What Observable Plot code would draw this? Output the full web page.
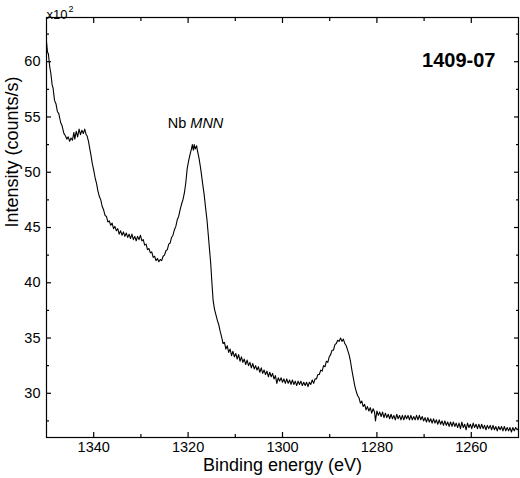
<!DOCTYPE html>
<html>
<head>
<meta charset="utf-8">
<script src="https://cdn.jsdelivr.net/npm/d3@7"></script>
<script src="https://cdn.jsdelivr.net/npm/@observablehq/plot@0.6"></script>
<style>
  html, body { margin: 0; padding: 0; background: #fff; }
</style>
</head>
<body>
<div id="chart"></div>
<script>
// [binding energy (eV), intensity (x10^2 counts/s)]
const shoulder = [[1350,61.8],[1349.8,60.9],[1349.6,60.7],[1349.3,59.5],[1349.1,59.0],[1348.8,57.9],[1348.6,57.6],
  [1348.3,56.5],[1348.0,56.2],[1347.7,55.5],[1347.4,55.3],[1347.0,54.5],[1346.7,54.2],[1346.3,53.5],[1346.0,53.3],
  [1345.7,53.0],[1345.4,53.2],[1345.1,52.8],[1344.8,53.1],[1344.5,52.9],[1344.2,53.6],[1344.0,53.0],[1343.7,53.7],
  [1343.4,53.2],[1343.1,53.9],[1342.8,53.4],[1342.5,53.8],[1342.2,53.5],[1341.9,53.9],[1341.6,53.4],[1341.4,53.3],
  [1341.1,52.8],[1340.9,52.3],[1340.6,51.6],[1340.3,50.8],[1340.0,50.2],[1339.7,49.5],[1339.4,49.0],[1339.1,48.3],
  [1338.8,47.8],[1338.5,47.5],[1338.2,46.9],[1337.9,46.6],[1337.6,46.1],[1337.3,46.0],[1337.0,45.5],[1336.7,45.6],
  [1336.4,45.2],[1336.1,45.4],[1335.8,44.9],[1335.5,45.1],[1335.2,44.7],[1334.9,44.9],[1334.6,44.4],[1334.3,44.7],
  [1334.0,44.3],[1333.7,44.6],[1333.4,44.2],[1333.1,44.5],[1332.8,44.1],[1332.5,44.4],[1332.2,44.0],[1331.9,44.4],
  [1331.6,43.9],[1331.3,44.2],[1331.0,43.8],[1330.7,44.2],[1330.4,43.9],[1330.1,44.3],[1329.8,43.8],[1329.5,43.9],
  [1329.2,43.4],[1328.9,43.5],[1328.6,43.0],[1328.3,43.1],[1328.0,42.7],[1327.7,42.8],[1327.4,42.3],[1327.1,42.4],
  [1326.8,42.0],[1326.5,42.2],[1326.2,41.9],[1325.9,42.1],[1325.6,42.0]];
const mnnPeak = [[1325.3,42.4],[1325.0,42.5],[1324.7,42.9],[1324.4,43.0],[1324.1,43.5],[1323.8,43.6],[1323.5,44.1],
  [1323.2,44.3],[1322.9,44.8],[1322.6,45.1],[1322.3,45.7],[1322.0,46.0],[1321.7,46.6],[1321.4,47.1],[1321.1,47.5],
  [1320.8,48.1],[1320.5,49.0],[1320.2,50.3],[1319.9,51.0],[1319.6,51.6],[1319.3,52.1],[1319.1,52.5],[1318.9,52.0],
  [1318.7,52.5],[1318.5,52.1],[1318.2,52.4],[1318.0,51.9],[1317.7,51.3],[1317.4,50.5],[1317.2,49.9],[1316.9,48.9],
  [1316.6,48.0],[1316.3,46.8],[1316.0,45.7],[1315.8,44.7],[1315.5,43.2],[1315.2,41.7],[1315.0,40.3],[1314.7,38.4],
  [1314.4,37.6],[1314.1,37.1],[1313.8,36.6],[1313.5,36.2],[1313.2,35.6],[1312.9,35.1],[1312.6,34.5]];
const valley = [[1312.3,34.6],[1312.0,34.0],[1311.7,34.3],[1311.4,33.7],[1311.1,34.0],[1310.8,33.4],[1310.5,33.8],
  [1310.2,33.3],[1309.9,33.6],[1309.6,33.1],[1309.3,33.5],[1309.0,32.9],[1308.7,33.3],[1308.4,32.8],[1308.1,33.1],
  [1307.8,32.6],[1307.5,33.0],[1307.2,32.5],[1306.9,32.8],[1306.6,32.3],[1306.3,32.7],[1306.0,32.2],[1305.7,32.5],
  [1305.4,32.1],[1305.1,32.4],[1304.8,31.9],[1304.5,32.3],[1304.2,31.8],[1303.9,32.1],[1303.6,31.7],[1303.3,32.0],
  [1303.0,31.5],[1302.7,31.9],[1302.4,31.5],[1302.1,31.8],[1301.8,31.3],[1301.5,31.6],[1301.2,30.9],[1300.9,31.4],
  [1300.6,31.1],[1300.3,31.4],[1300.0,31.0],[1299.7,31.3],[1299.4,30.9],[1299.1,31.3],[1298.8,30.9],[1298.5,31.2],
  [1298.2,30.8],[1297.9,31.2],[1297.6,30.8],[1297.3,31.1],[1297.0,30.7],[1296.7,31.1],[1296.4,30.8],[1296.1,31.1],
  [1295.8,30.7],[1295.5,31.0],[1295.2,30.7],[1294.9,31.0],[1294.6,30.6],[1294.3,31.0],[1294.0,30.8],[1293.7,31.2],
  [1293.4,30.9]];
const lowPeak = [[1293.1,31.3],[1292.8,31.3],[1292.5,31.7],[1292.2,31.7],[1291.9,32.1],[1291.6,32.0],[1291.3,32.5],
  [1291.0,32.4],[1290.7,32.9],[1290.4,32.8],[1290.1,33.3],[1289.8,33.5],[1289.5,33.9],[1289.2,33.9],[1288.9,34.4],
  [1288.6,34.5],[1288.3,34.8],[1288.0,34.7],[1287.7,35.0],[1287.4,34.7],[1287.1,34.9],[1286.8,34.5],[1286.5,34.3],
  [1286.2,33.9],[1285.9,33.5],[1285.6,32.9],[1285.3,32.1],[1285.0,31.4],[1284.7,30.7],[1284.4,30.2],[1284.1,29.8],
  [1283.8,29.6],[1283.5,29.1],[1283.2,29.3],[1282.9,28.8],[1282.6,29.0],[1282.3,28.5],[1282.0,28.8],[1281.7,28.4],
  [1281.4,28.7],[1281.1,28.2],[1280.8,28.6],[1280.5,28.3],[1280.3,27.5],[1280.0,28.4]];
const background = [[1279.7,28.0],[1279.4,28.3],[1279.1,27.9],[1278.8,28.3],[1278.5,27.8],[1278.2,28.2],[1277.9,27.8],
  [1277.6,28.1],[1277.3,27.7],[1277.0,28.1],[1276.7,27.7],[1276.4,28.0],[1276.1,27.6],[1275.8,28.1],[1275.5,27.7],
  [1275.2,28.0],[1274.9,27.6],[1274.6,28.0],[1274.3,27.6],[1274.0,28.0],[1273.7,27.7],[1273.4,28.0],[1273.1,27.6],
  [1272.8,28.0],[1272.5,27.6],[1272.2,27.9],[1271.9,27.6],[1271.6,28.0],[1271.3,27.6],[1271.0,28.0],[1270.7,27.6],
  [1270.4,27.9],[1270.1,27.5],[1269.8,27.8],[1269.5,27.4],[1269.2,27.8],[1268.9,27.4],[1268.6,27.7],[1268.3,27.3],
  [1268.0,27.7],[1267.7,27.3],[1267.4,27.6],[1267.1,27.2],[1266.8,27.6],[1266.5,27.2],[1266.2,27.5],[1265.9,27.1],
  [1265.6,27.5],[1265.3,27.1],[1265.0,27.4],[1264.7,27.0],[1264.4,27.4],[1264.1,27.0],[1263.8,27.4],[1263.5,27.0],
  [1263.2,27.3],[1262.9,26.9],[1262.6,27.3],[1262.3,26.8],[1262.0,27.4],[1261.7,26.9],[1261.4,27.2],[1261.1,26.7],
  [1260.8,27.3],[1260.5,26.9],[1260.2,27.2],[1259.9,26.8],[1259.6,27.3],[1259.3,26.9],[1259.0,27.2],[1258.7,26.8],
  [1258.4,27.2],[1258.1,26.8],[1257.8,27.2],[1257.5,26.8],[1257.2,27.1],[1256.9,26.7],[1256.6,27.1],[1256.3,26.8],
  [1256.0,27.1],[1255.7,26.7],[1255.4,27.1],[1255.1,26.7],[1254.8,27.0],[1254.5,26.6],[1254.2,27.0],[1253.9,26.7],
  [1253.6,27.0],[1253.3,26.6],[1253.0,27.0],[1252.7,26.6],[1252.4,26.9],[1252.1,26.6],[1251.8,26.9],[1251.5,26.5],
  [1251.2,26.9],[1250.9,26.6],[1250.6,26.9],[1250.3,26.7],[1250.0,26.8]];

const xMajor = [1340, 1320, 1300, 1280, 1260];
const xMinor = [1330, 1310, 1290, 1270];
const yMajor = [30, 35, 40, 45, 50, 55, 60];
const yMinor = [27.5, 32.5, 37.5, 42.5, 47.5, 52.5, 57.5, 62.5];
const xDomain = [1350, 1250];
const yDomain = [26, 64];

const spectrum = [...shoulder, ...mnnPeak, ...valley, ...lowPeak, ...background].map(([e, v]) => ({e, v}));

const W = 520, H = 478, mt = 17, mb = 41, ml = 46, mr = 2;
const maj = 5, mnr = 3;
const fmt = d3.format("d");
const tk = {stroke: "#000", strokeWidth: 1.2};

const chart = Plot.plot({
  width: W, height: H,
  marginTop: mt, marginBottom: mb, marginLeft: ml, marginRight: mr,
  style: {fontFamily: "'Liberation Sans', Arial, sans-serif", fontSize: "14px", color: "#000", background: "#fff"},
  x: {domain: xDomain},
  y: {domain: yDomain},
  marks: [
    Plot.line(spectrum, {x: "e", y: "v", stroke: "#000", strokeWidth: 1.1}),
    Plot.frame({stroke: "#000", strokeWidth: 1.2}),
    // inward ticks (negative tickSize) on all four sides
    Plot.axisX(xMajor, {anchor: "bottom", tickSize: -maj, tickPadding: 4 + maj, label: null, fontSize: 14.5, tickFormat: fmt, ...tk}),
    Plot.axisX(xMinor, {anchor: "bottom", tickSize: -mnr, text: null, label: null, ...tk}),
    Plot.axisX(xMajor, {anchor: "top", tickSize: -maj, text: null, label: null, ...tk}),
    Plot.axisX(xMinor, {anchor: "top", tickSize: -mnr, text: null, label: null, ...tk}),
    Plot.axisY(yMajor, {anchor: "left", tickSize: -maj, tickPadding: 6 + maj, label: null, fontSize: 14.5, tickFormat: fmt, ...tk}),
    Plot.axisY(yMinor, {anchor: "left", tickSize: -mnr, text: null, label: null, ...tk}),
    Plot.axisY(yMajor, {anchor: "right", tickSize: -maj, text: null, label: null, ...tk}),
    Plot.axisY(yMinor, {anchor: "right", tickSize: -mnr, text: null, label: null, ...tk}),
    Plot.text(["Binding energy (eV)"], {frameAnchor: "bottom", dy: 33.5, fontSize: 18, fill: "#000"}),
    Plot.text(["Intensity (counts/s)"], {frameAnchor: "left", dx: -34, rotate: -90, fontSize: 18, fill: "#000"}),
    Plot.text(["x10"], {frameAnchor: "top-left", textAnchor: "start", dy: -8, fontSize: 13, fill: "#000"}),
    Plot.text(["2"], {frameAnchor: "top-left", textAnchor: "start", dx: 22, dy: -12, fontSize: 9, fill: "#000"}),
    Plot.text(["1409-07"], {frameAnchor: "top-right", textAnchor: "end", dx: -23, dy: 35, fontSize: 20, fontWeight: "bold", fill: "#000"}),
    Plot.text(["Nb"], {x: 1324.3, y: 54.4, textAnchor: "start", fontSize: 14.5, fill: "#000"}),
    Plot.text(["MNN"], {x: 1324.3, y: 54.4, dx: 22.5, textAnchor: "start", fontSize: 14.5, fontStyle: "italic", fill: "#000"})
  ]
});
document.getElementById("chart").appendChild(chart);
</script>
</body>
</html>
